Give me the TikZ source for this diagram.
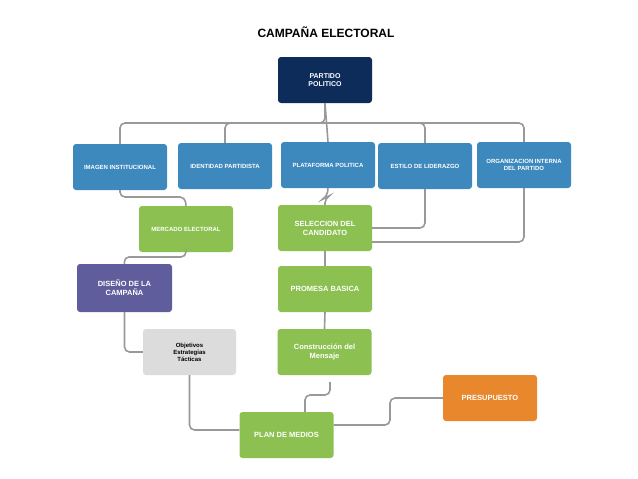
\documentclass[tikz,border=0pt]{standalone}
\usepackage{fontspec}
\setmainfont{Liberation Sans}
\begin{document}
\begin{tikzpicture}[x=1pt,y=-1pt,
  box/.style={draw=none,rounded corners=3pt,minimum width=94pt,minimum height=46pt,inner sep=1pt,align=center,text=white,font=\bfseries\fontsize{6}{7}\selectfont},
  bl/.style={box,fill=blue1},
  gr/.style={box,fill=green1,font=\bfseries\fontsize{7.5}{9}\selectfont},
  ln/.style={draw=gray!80,line width=1.6pt,rounded corners=5pt}]
\definecolor{blue1}{HTML}{3D88BD}
\definecolor{green1}{HTML}{8CC152}
\definecolor{navy}{HTML}{0E2C5A}
\definecolor{purp}{HTML}{5F5D9C}
\definecolor{lgray}{HTML}{DCDCDC}
\definecolor{orng}{HTML}{E8872C}
\useasboundingbox (0,0) rectangle (638,479);
\fill[white] (0,0) rectangle (638,479);
\node[font=\bfseries\fontsize{12}{14}\selectfont] (title) at (326,32) {CAMPAÑA ELECTORAL};
\node[box,fill=navy,font=\bfseries\fontsize{7}{8.5}\selectfont] (par) at (325,80) {PARTIDO\\POLITICO};
\node[bl] (img) at (120,167) {IMAGEN INSTITUCIONAL};
\node[bl] (ide) at (225,166) {IDENTIDAD PARTIDISTA};
\node[bl] (pla) at (328,165) {PLATAFORMA POLITICA};
\node[bl] (est) at (425,166) {ESTILO DE LIDERAZGO};
\node[bl] (org) at (524,165) {ORGANIZACION INTERNA\\DEL PARTIDO};
\node[gr,font=\bfseries\fontsize{6}{7}\selectfont] (mer) at (186,229) {MERCADO ELECTORAL};
\node[gr] (sel) at (325,228) {SELECCION DEL\\CANDIDATO};
\node[box,fill=purp,font=\bfseries\fontsize{7.5}{9}\selectfont,minimum width=95pt,minimum height=48pt] (dis) at (124.5,288) {DISEÑO DE LA\\CAMPAÑA};
\node[gr] (pro) at (325,289) {PROMESA BASICA};
\node[box,fill=lgray,text=black,font=\bfseries\fontsize{6}{7}\selectfont,minimum width=93pt] (obj) at (189.5,352) {Objetivos\\Estrategias\\Tácticas};
\node[gr] (con) at (324.5,352) {Construcción del\\Mensaje};
\node[gr,fill=orng] (pre) at (490,398) {PRESUPUESTO};
\node[gr] (plan) at (286.5,435) {PLAN DE MEDIOS};
\begin{scope}[on background layer/.style={}]
\end{scope}
\draw[ln] (par.south) -- (325,123) -| (img.north);
\draw[ln] (325,123) -| (ide.north);
\draw[ln] (par.south) -- (pla.north);
\draw[ln] (325,123) -| (est.north);
\draw[ln] (325,123) -| (org.north);
\draw[ln] (img.south) |- (185,197) -- (mer.north);
\draw[ln] (mer.south) |- (124,257) -- (dis.north);
\draw[ln] (pla.south) -- (327,197) -- (325,198) -- (sel.north);
\draw[ln] (est.south) |- (sel.east |- 0,228);
\draw[ln] (org.south) |- (sel.east |- 0,242);
\draw[ln] (sel.south) -- (pro.north);
\draw[ln] (pro.south) -- (con.north);
\draw[ln] (330,382) |- (305,395) -- (plan.north -| 305,0);
\draw[ln] (dis.south) |- (obj.west);
\draw[ln] (obj.south) |- (plan.west |- 0,430);
\draw[ln] (plan.east |- 0,425) -| (390,398) -- (pre.west);
\end{tikzpicture}
\end{document}
